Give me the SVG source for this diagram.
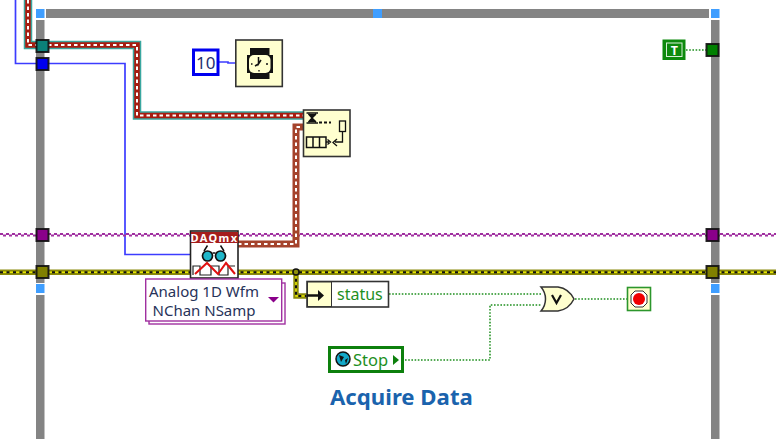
<svg xmlns="http://www.w3.org/2000/svg" width="776" height="439" viewBox="0 0 776 439">
<style>
text{font-family:"Noto Sans","Liberation Sans",sans-serif}
.frame{fill:#848484}
.corner{fill:#3f9eff}
.term{stroke:#111;stroke-width:2;stroke-opacity:.9}
.clust-t{fill:none;stroke:#3aa7a0;stroke-width:8.500;stroke-linejoin:miter}
.clust-r{fill:none;stroke:#a81c10;stroke-width:5.500;stroke-linejoin:miter}
.clust-b{fill:none;stroke:#a5432c;stroke-width:7;stroke-linejoin:miter}
.clust-w{fill:none;stroke:#fff;stroke-width:2;stroke-dasharray:3.500 3}
.blue{fill:none;stroke:#3c3cff;stroke-width:1.700}
.bool{fill:none;stroke:#1e8f1e;stroke-width:1.500;stroke-dasharray:1.600 1.600}
.err-o{fill:none;stroke:#8a8a0a;stroke-width:5.400}
.err-y{fill:none;stroke:#e8e800;stroke-width:1.500}
.err-k{fill:none;stroke:#111;stroke-width:2;stroke-dasharray:3 3.500}
.pur{fill:none;stroke:#a02fa0;stroke-width:2;stroke-dasharray:3 3}
.vi{fill:#ffffcf;stroke:#333;stroke-width:1.600}
</style>
<rect width="776" height="439" fill="#fff"/>
<g id="loop-frame">
<rect class="frame" x="46" y="9" width="663" height="9"/>
<rect class="frame" x="36" y="20" width="8.500" height="263"/>
<rect class="frame" x="36" y="295" width="8.500" height="144"/>
<rect class="frame" x="711" y="20" width="8.500" height="263"/>
<rect class="frame" x="711" y="295" width="8.500" height="144"/>
<rect class="corner" x="36" y="9" width="8.500" height="9"/>
<rect class="corner" x="373" y="9" width="9" height="9"/>
<rect class="corner" x="711" y="9" width="8.500" height="9"/>
<rect class="corner" x="36" y="284" width="8.500" height="9"/>
<rect class="corner" x="711" y="284" width="8.500" height="9"/>
</g>
<g id="connectors">
<path class="blue" d="M15.500 0V63.500H125V254.500H190"/>
<path class="blue" d="M219 62H228V63H235"/>
<path class="pur" d="M0 234H776"/>
<path class="pur" stroke-dashoffset="3" d="M0 235.500H776"/>
<path class="clust-t" d="M28 0V45H137V115.500H303"/>
<path class="clust-r" d="M28 0V45H137V115.500H303"/>
<path class="clust-w" d="M28 0V45H137V115.500H303"/>
<path class="clust-b" d="M238 244H296V127H303"/>
<path class="clust-w" d="M238 244H296V127H303"/>
<path class="err-o" d="M0 272.300H776M296 272.300V296H307"/>
<path class="err-y" d="M0 272.300H776M296 272.300V296H307"/>
<path class="err-k" d="M0 272.300H776M296 272.300V296H307"/>
<circle cx="296" cy="272" r="3" fill="#8f8f0a" stroke="#111" stroke-width="1.500"/>
<path class="bool" d="M389 294H541"/>
<path class="bool" d="M405 360H490V305H541"/>
<path class="bool" d="M575 299H627"/>
<path class="bool" d="M686 50H706"/>
</g>
<g id="terminals">
<rect class="term" x="36.500" y="40" width="12" height="12" fill="#0b8078"/>
<rect class="term" x="36.500" y="58" width="12" height="12" fill="#0000f0"/>
<rect class="term" x="36.500" y="229" width="12" height="12" fill="#8a008a"/>
<rect class="term" x="36.500" y="266" width="12" height="12" fill="#808000"/>
<rect class="term" x="706.500" y="229" width="12" height="12" fill="#8a008a"/>
<rect class="term" x="706.500" y="266" width="12" height="12" fill="#808000"/>
<rect class="term" x="706.500" y="44" width="12" height="12" fill="#008000"/>
</g>
<g id="const-10">
<rect x="193.500" y="50" width="24.500" height="24.500" fill="#fff" stroke="#0000f0" stroke-width="3"/>
<text x="205.800" y="69" font-size="17" text-anchor="middle" fill="#1f2f70">10</text>
</g>
<g id="wait-timer">
<rect class="vi" x="235.800" y="40" width="46.500" height="46.500"/>
<path d="M250 48H269.500V55H273V73H269.500V79H250V73H247V55H250Z" fill="#111"/>
<rect x="249" y="55" width="21.500" height="18" rx="5" fill="#ffffcf"/>
<path d="M258.500 57V64L261 60M255 66L258.500 64" fill="none" stroke="#111" stroke-width="1.500"/>
<path d="M251 64H252.500M266 64H268M259 70V71.500" stroke="#111" stroke-width="1.300"/>
</g>
<g id="dequeue-flush">
<rect class="vi" x="303.500" y="110" width="46.500" height="46.500"/>
<path d="M306.500 113H318M306.500 123H318M308.500 114L312 118L316 114M308.500 122L312 118L316 122" fill="#111" stroke="#111" stroke-width="1.500"/>
<path d="M319 122.500H322M324 122.500H327M329 122.500H331" stroke="#111" stroke-width="2.200"/>
<rect x="339.500" y="121" width="6" height="10.500" fill="none" stroke="#111" stroke-width="1.300"/>
<path d="M342.500 131.500V142H335M337 139L333 142.500L337 146" fill="none" stroke="#111" stroke-width="1.300"/>
<path d="M306.500 137H326V147.500H306.500ZM313 137V147.500M319.500 137V147.500" fill="none" stroke="#111" stroke-width="1.500"/>
<path d="M326 142H329M327.500 139.500L330.500 142L327.500 144.500" fill="none" stroke="#111" stroke-width="1.300"/>
</g>
<g id="daqmx-read">
<rect x="190.500" y="231" width="47.500" height="47" fill="#fff" stroke="#222" stroke-width="1.600"/>
<rect x="191" y="232" width="47" height="11" fill="#a51d1d"/>
<text x="214.500" y="241.500" font-size="11" font-weight="bold" letter-spacing="1.400" text-anchor="middle" fill="#fff" font-family="Liberation Mono">DAQmx</text>
<circle cx="207.500" cy="256" r="5" fill="#1fb6c9" stroke="#111" stroke-width="1.700"/>
<circle cx="220.500" cy="256" r="5" fill="#1fb6c9" stroke="#111" stroke-width="1.700"/>
<path d="M204 251L207.500 245.500M224 251L220.500 245.500M212.500 253H215.500" fill="none" stroke="#111" stroke-width="1.500"/>
<path d="M193 275V266H200V275H211V266H219V275H228V266H235" fill="none" stroke="#222" stroke-width="1.200"/>
<path d="M195 274L207 263L218 274L226 263L235 274" fill="none" stroke="#e01010" stroke-width="2"/>
</g>
<g id="read-ring">
<rect x="149" y="283" width="136" height="41" fill="#fff" stroke="#a02fa0" stroke-width="1.400"/>
<rect x="145.700" y="279" width="136" height="42" fill="#fff" stroke="#a02fa0" stroke-width="1.400"/>
<text x="149" y="296.500" font-size="15" fill="#27335a">Analog 1D Wfm</text>
<text x="152.500" y="316" font-size="15" fill="#27335a">NChan NSamp</text>
<path d="M268 297H279L273.500 302.500Z" fill="#8a008a"/>
</g>
<g id="unbundle-status">
<rect x="307" y="281.500" width="81.500" height="25.500" fill="#fff" stroke="#333" stroke-width="1.600"/>
<rect x="307.500" y="282" width="24" height="24.500" fill="#ffffcf" stroke="#333" stroke-width="1"/>
<path d="M307 295.500H320" stroke="#111" stroke-width="2.500"/>
<path d="M318 290L324 295.500L318 301Z" fill="#111"/>
<text x="337" y="300" font-size="16" fill="#1e8f1e">status</text>
</g>
<g id="stop-ctl">
<rect x="329.500" y="347.500" width="73" height="24" fill="#fff" stroke="#0d800d" stroke-width="3"/>
<circle cx="343" cy="359" r="7" fill="#12a8c8" stroke="#111" stroke-width="1.500"/>
<path d="M339 355L344 357L341 362ZM345 360L348 358L346 364Z" fill="#111"/>
<text x="353" y="366" font-size="16.500" fill="#1e8f1e">Stop</text>
<path d="M393 355L399 360L393 365Z" fill="#0d800d"/>
</g>
<g id="or-gate">
<path d="M541 287H558C565 288 571 293 574 299C571 305 565 310 558 311H541C547 304 547 294 541 287Z" fill="#ffffcf" stroke="#333" stroke-width="1.500"/>
<path d="M552 295L556.500 303L561 295" fill="none" stroke="#111" stroke-width="2.200"/>
</g>
<g id="stop-term">
<rect x="627.500" y="287.500" width="23" height="23" fill="#ffffcf" stroke="#2c962c" stroke-width="1.600"/>
<path d="M635 291H643L647 295V303L643 307H635L631 303V295Z" fill="#fff" stroke="#333"/>
<circle cx="639" cy="299" r="6" fill="#f00000"/>
</g>
<g id="true-const">
<rect x="662.500" y="39.500" width="23" height="20.500" fill="#0d8a0d"/>
<rect x="666.500" y="43" width="15.500" height="13.500" fill="none" stroke="#d7efd7" stroke-width="1"/>
<text x="674.300" y="54.500" font-size="12.500" font-weight="bold" text-anchor="middle" fill="#fff">T</text>
</g>
<g id="label">
<text x="330" y="404.500" font-size="22.200" font-weight="bold" fill="#1a63ad">Acquire Data</text>
</g>
</svg>
